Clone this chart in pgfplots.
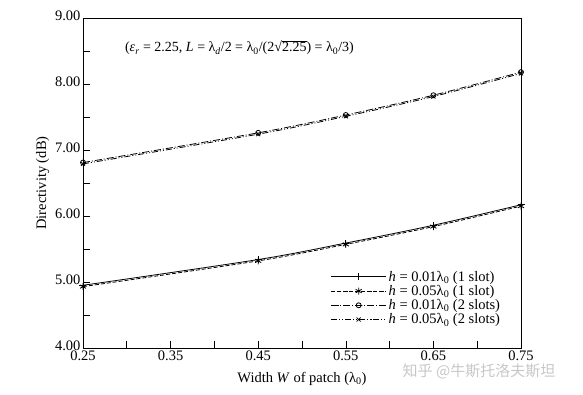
\documentclass[border=0pt]{standalone}
\usepackage{fontspec}
\setmainfont{Liberation Serif}
\newfontfamily\cjk{Noto Sans CJK SC}
\usepackage{pgfplots}
\pgfplotsset{compat=1.18}
\begin{document}
\begin{tikzpicture}
\begin{axis}[
  name=ax,
  scale only axis,
  width=438pt, height=330pt,
  xmin=0.25, xmax=0.75, ymin=4, ymax=9,
  xtick={0.25,0.35,...,0.75},
  minor xtick={0.30,0.40,...,0.70},
  ytick={4,5,...,9},
  minor ytick={4.5,5.5,...,8.5},
  xtick pos=bottom, ytick pos=left,
  tick align=inside,
  major tick length=7pt, minor tick length=7pt,
  tick style={black, line width=0.6pt},
  axis line style={line width=0.8pt},
  /pgf/number format/assume math mode=true,
  xticklabel style={/pgf/number format/fixed, /pgf/number format/fixed zerofill, /pgf/number format/precision=2, yshift=1pt},
  yticklabel style={/pgf/number format/fixed, /pgf/number format/fixed zerofill, /pgf/number format/precision=2, xshift=1pt, yshift=2.5pt},
  ticklabel style={font=\fontsize{14.5}{16}\selectfont},
  label style={font=\fontsize{14.5}{16}\selectfont},
  xlabel={Width \textit{W} of patch (λ\textsubscript{0})},
  ylabel={Directivity (dB)},
  xlabel style={yshift=-5pt},
  ylabel style={yshift=-1pt},
  legend style={at={(0.565,0.246)}, anchor=north west, draw=none, fill=none,
    font=\fontsize{14.5}{16}\selectfont, row sep=-1.5pt, inner xsep=0pt},
  legend cell align=left,
  legend image code/.code={\draw[mark repeat=2,mark phase=2,#1] plot coordinates {(0cm,0cm) (0.97cm,0cm) (1.94cm,0cm)};},
]
\addplot[black, line width=0.8pt, smooth, mark=+, mark size=3.5pt, mark options={solid}] coordinates {
 (0.25,4.95) (0.45,5.34) (0.55,5.59) (0.65,5.86) (0.75,6.17)};
\addlegendentry{\textit{h} = 0.01λ\textsubscript{0} (1 slot)}
\addplot[black, line width=0.8pt, smooth, dash pattern=on 4pt off 2pt, mark=asterisk, mark size=3.5pt, mark options={solid}] coordinates {
 (0.25,4.93) (0.45,5.32) (0.55,5.57) (0.65,5.84) (0.75,6.15)};
\addlegendentry{\textit{h} = 0.05λ\textsubscript{0} (1 slot)}
\addplot[black, line width=0.8pt, smooth, dash pattern=on 7pt off 2pt on 1pt off 2pt, mark=o, mark size=2.5pt, mark options={solid}] coordinates {
 (0.25,6.81) (0.45,7.26) (0.55,7.53) (0.65,7.83) (0.75,8.18)};
\addlegendentry{\textit{h} = 0.01λ\textsubscript{0} (2 slots)}
\addplot[black, line width=0.8pt, smooth, dash pattern=on 6pt off 2pt on 1pt off 2pt on 1pt off 2pt, mark=x, mark size=2.8pt, mark options={solid}] coordinates {
 (0.25,6.79) (0.45,7.24) (0.55,7.51) (0.65,7.81) (0.75,8.16)};
\addlegendentry{\textit{h} = 0.05λ\textsubscript{0} (2 slots)}
\node[anchor=west, font=\fontsize{14}{16}\selectfont] at (axis cs:0.294,8.55)
 {(\textit{ε\textsubscript{r}} = 2.25, \textit{L} = λ\textsubscript{\textit{d}}/2 = λ\textsubscript{0}/(2√$\overline{\mbox{2.25}}$) = λ\textsubscript{0}/3)};
\end{axis}
\node[anchor=center, text=black!22, font=\cjk\fontsize{15}{17}\selectfont] at ([xshift=-42pt,yshift=-23pt]ax.south east) {知乎 @牛斯托洛夫斯坦};
\path ([xshift=-83pt,yshift=-47pt]ax.south west) rectangle ([xshift=62pt,yshift=18pt]ax.north east);
\end{tikzpicture}
\end{document}
